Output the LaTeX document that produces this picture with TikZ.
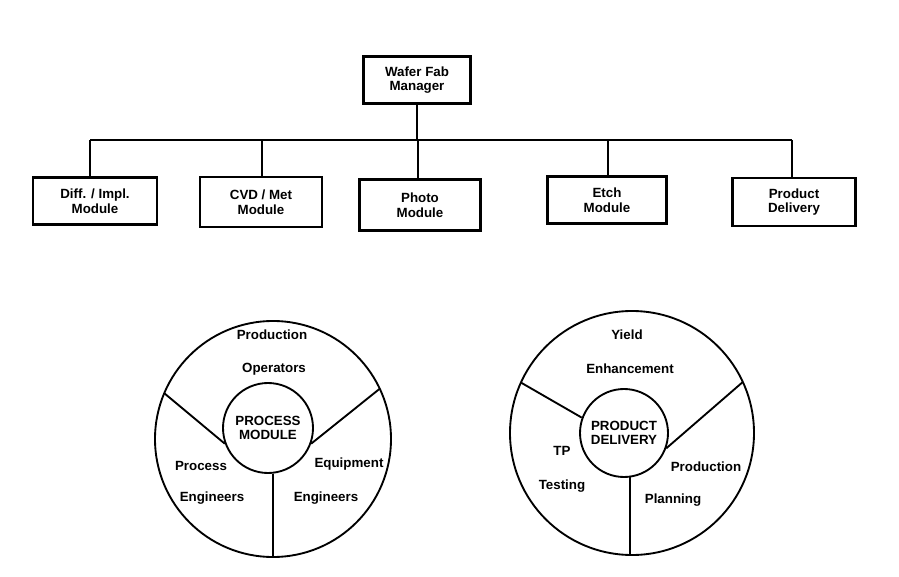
\documentclass[tikz,border=0pt]{standalone}
\usepackage{fontspec}
\setmainfont{Liberation Sans}
\begin{document}
\begin{tikzpicture}[x=0.75pt,y=-0.75pt,line width=1.4pt,
  box/.style={draw,line width=1.6pt,inner sep=0pt,font=\bfseries\fontsize{10}{11}\selectfont,align=center},
  lbl/.style={font=\bfseries\fontsize{10}{11}\selectfont,align=center}]
\useasboundingbox (0,0) rectangle (899,577);
\node[box,minimum width=107*0.75pt,minimum height=47*0.75pt] (m) at (417,80) {Wafer Fab\\Manager};
\node[box,minimum width=124*0.75pt,minimum height=47*0.75pt] (b1) at (95,201) {Diff. / Impl.\\Module};
\node[box,minimum width=122*0.75pt,minimum height=50*0.75pt] (b2) at (261,202) {CVD / Met\\Module};
\node[box,minimum width=121*0.75pt,minimum height=51*0.75pt] (b3) at (420,205) {Photo\\Module};
\node[box,minimum width=119*0.75pt,minimum height=47*0.75pt] (b4) at (607,200) {Etch\\Module};
\node[box,minimum width=123*0.75pt,minimum height=48*0.75pt] (b5) at (794,202) {Product\\Delivery};
\coordinate (h) at (417,140);
\draw (m.south) -- (h);
\draw (90,140) -- (792,140);
\draw (90,140) -- (b1.north -| 90,0);
\draw (262,140) -- (b2.north -| 262,0);
\draw (418,140) -- (b3.north -| 418,0);
\draw (608,140) -- (b4.north -| 608,0);
\draw (792,140) -- (b5.north -| 792,0);
% left circle
\draw (273,439) circle[radius=118*0.75pt];
\node[draw,circle,line width=1.4pt,minimum size=90*0.75pt,inner sep=0pt,lbl] (pm) at (268,428) {PROCESS\\MODULE};
\draw (pm.200) -- (164,393);
\draw (pm.-20) -- (380,388.5);
\draw (pm.south -| 273,0) -- (273,557);
\node[lbl] at (272,335) {Production};
\node[lbl] at (274,369) {Operators};
\node[lbl] at (201,466) {Process};
\node[lbl] at (212,498) {Engineers};
\node[lbl] at (349,464) {Equipment};
\node[lbl] at (326,498) {Engineers};
% right circle
\draw (632,433) circle[radius=122*0.75pt];
\node[draw,circle,line width=1.4pt,minimum size=88*0.75pt,inner sep=0pt,lbl] (pd) at (624,433) {PRODUCT\\DELIVERY};
\draw (pd.160) -- (521,382.6);
\draw (pd.-20) -- (742.8,382);
\draw (630,477) -- (630,555);
\node[lbl] at (627,335) {Yield};
\node[lbl] at (630,369) {Enhancement};
\node[lbl] at (562,451) {TP};
\node[lbl] at (562,486) {Testing};
\node[lbl] at (706,467) {Production};
\node[lbl] at (673,500) {Planning};
\end{tikzpicture}
\end{document}
